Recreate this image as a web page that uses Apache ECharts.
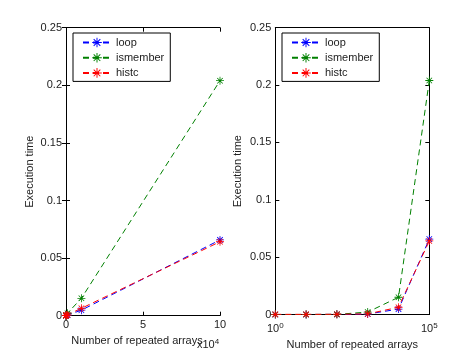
<!DOCTYPE html>
<html>
<head>
<meta charset="utf-8">
<script src="https://cdn.jsdelivr.net/npm/echarts@6/dist/echarts.min.js"></script>
<style>html,body{margin:0;padding:0;background:#fff;}#c{width:474px;height:355px;}</style>
</head>
<body>
<div id="c"></div>
<script>
// Data
const seriesNames = ['loop', 'ismember', 'histc'];
const repeats = [1, 10, 100, 1000, 10000, 100000];
const loopTimes = [0.0001, 0.0001, 0.0002, 0.0005, 0.0048, 0.0658];
const ismemberTimes = [0.0001, 0.0001, 0.0002, 0.0022, 0.0151, 0.2040];
const histcTimes = [0.0002, 0.0002, 0.0003, 0.0006, 0.0064, 0.0642];
const yTicks = ['0', '0.05', '0.1', '0.15', '0.2', '0.25'];
const leftXTicks = ['0', '5', '10'];

const colors = ['#0000ff', '#008000', '#ff0000'];
const valuesList = [loopTimes, ismemberTimes, histcTimes];
const FONT = 'Liberation Sans';
const star = 'path://M4.5 0L5.5 0L5.5 10L4.5 10Z M0 4.5L10 4.5L10 5.5L0 5.5Z M1.2 1.9L1.9 1.2L8.8 8.1L8.1 8.8Z M8.1 1.2L8.8 1.9L1.9 8.8L1.2 8.1Z';

const grids = [
  {left: 66, right: 254, top: 27.7, bottom: 39.3},
  {left: 275.3, right: 44.7, top: 27.7, bottom: 39.3}
];

const yLabelFmt = v => {
  const i = Math.round(v / 0.05);
  return yTicks[i] !== undefined ? yTicks[i] : '';
};

function yAxes(gi) {
  return [
    {gridIndex: gi, type: 'value', min: 0, max: 0.25, interval: 0.05, position: 'left',
     name: 'Execution time', nameLocation: 'middle', nameGap: gi === 0 ? 31 : 32,
     nameTextStyle: {fontFamily: FONT, fontSize: 11, color: '#222'},
     axisLine: {show: true, lineStyle: {color: '#000', width: 1}},
     axisTick: {show: true, inside: true, length: 4, lineStyle: {color: '#000'}},
     axisLabel: {formatter: yLabelFmt, fontFamily: FONT, fontSize: 11, color: '#222', margin: 4},
     splitLine: {show: false}},
    {gridIndex: gi, type: 'value', min: 0, max: 0.25, interval: 0.05, position: 'right',
     axisLine: {show: true, lineStyle: {color: '#000', width: 1}},
     axisTick: {show: true, inside: true, length: 4, lineStyle: {color: '#000'}},
     axisLabel: {show: false}, splitLine: {show: false}}
  ];
}

const xAxis = [
  {gridIndex: 0, type: 'value', min: 0, max: 10, interval: 5, position: 'bottom',
   name: 'Number of repeated arrays', nameLocation: 'middle', nameGap: 20,
   nameTextStyle: {fontFamily: FONT, fontSize: 11, color: '#222', padding: [0, 12, 0, 0]},
   axisLine: {show: true, onZero: false, lineStyle: {color: '#000', width: 1}},
   axisTick: {show: true, inside: true, length: 4, lineStyle: {color: '#000'}},
   axisLabel: {formatter: v => leftXTicks[Math.round(v / 5)] || '', fontFamily: FONT, fontSize: 11, color: '#222', margin: 4},
   splitLine: {show: false}},
  {gridIndex: 0, type: 'value', min: 0, max: 10, interval: 5, position: 'top',
   axisLine: {show: true, onZero: false, lineStyle: {color: '#000', width: 1}},
   axisTick: {show: true, inside: true, length: 4, lineStyle: {color: '#000'}},
   axisLabel: {show: false}, splitLine: {show: false}},
  {gridIndex: 1, type: 'log', logBase: 10, min: 1, max: 100000, position: 'bottom',
   name: 'Number of repeated arrays', nameLocation: 'middle', nameGap: 23,
   nameTextStyle: {fontFamily: FONT, fontSize: 11, color: '#222'},
   axisLine: {show: true, onZero: false, lineStyle: {color: '#000', width: 1}},
   axisTick: {show: false},
   axisLabel: {
     formatter: v => v === 1 ? '{b|10}{s|0}' : (v === 100000 ? '{b|10}{s|5}' : ''),
     fontFamily: FONT, color: '#222', margin: 7,
     rich: {b: {fontFamily: FONT, fontSize: 11, color: '#222'},
            s: {fontFamily: FONT, fontSize: 8, color: '#222', verticalAlign: 'top', padding: [0, 0, 6, 0]}}
   },
   splitLine: {show: false}},
  {gridIndex: 1, type: 'log', logBase: 10, min: 1, max: 100000, position: 'top',
   axisLine: {show: true, onZero: false, lineStyle: {color: '#000', width: 1}},
   axisTick: {show: false}, axisLabel: {show: false}, splitLine: {show: false}}
];

const series = [];
[0, 1].forEach(gi => {
  seriesNames.forEach((nm, k) => {
    series.push({
      name: nm, type: 'line',
      xAxisIndex: gi === 0 ? 0 : 2, yAxisIndex: gi === 0 ? 0 : 2,
      data: repeats.map((r, i) => [gi === 0 ? r / 10000 : r, valuesList[k][i]]),
      symbol: star, symbolSize: 8, showSymbol: true,
      itemStyle: {color: colors[k], borderWidth: 0},
      lineStyle: {color: colors[k], width: 1, type: [6, 4]},
      animation: false, silent: true
    });
  });
});

function legend(left) {
  return {
    data: seriesNames, orient: 'vertical', left: left, top: 33,
    padding: [4, 6, 3, 9], itemGap: 4.2, itemWidth: 28, itemHeight: 12,
    backgroundColor: '#fff', borderColor: '#000', borderWidth: 1, borderRadius: 0,
    textStyle: {fontFamily: FONT, fontSize: 11, color: '#222'},
    selectedMode: false
  };
}

const chart = echarts.init(document.getElementById('c'), null, {renderer: 'canvas'});
chart.setOption({
  animation: false,
  backgroundColor: '#fff',
  grid: grids,
  xAxis: xAxis,
  yAxis: yAxes(0).concat(yAxes(1)),
  legend: [legend(73), legend(282)],
  series: series,
  graphic: [{
    type: 'text', left: 197, top: 338,
    style: {text: '{b|x10}{s|4}', fontFamily: FONT, fill: '#222',
      rich: {b: {fontFamily: FONT, fontSize: 11, fill: '#222'},
             s: {fontFamily: FONT, fontSize: 8, fill: '#222', verticalAlign: 'top', padding: [0, 0, 6, 0]}}}
  }]
});
</script>
</body>
</html>
